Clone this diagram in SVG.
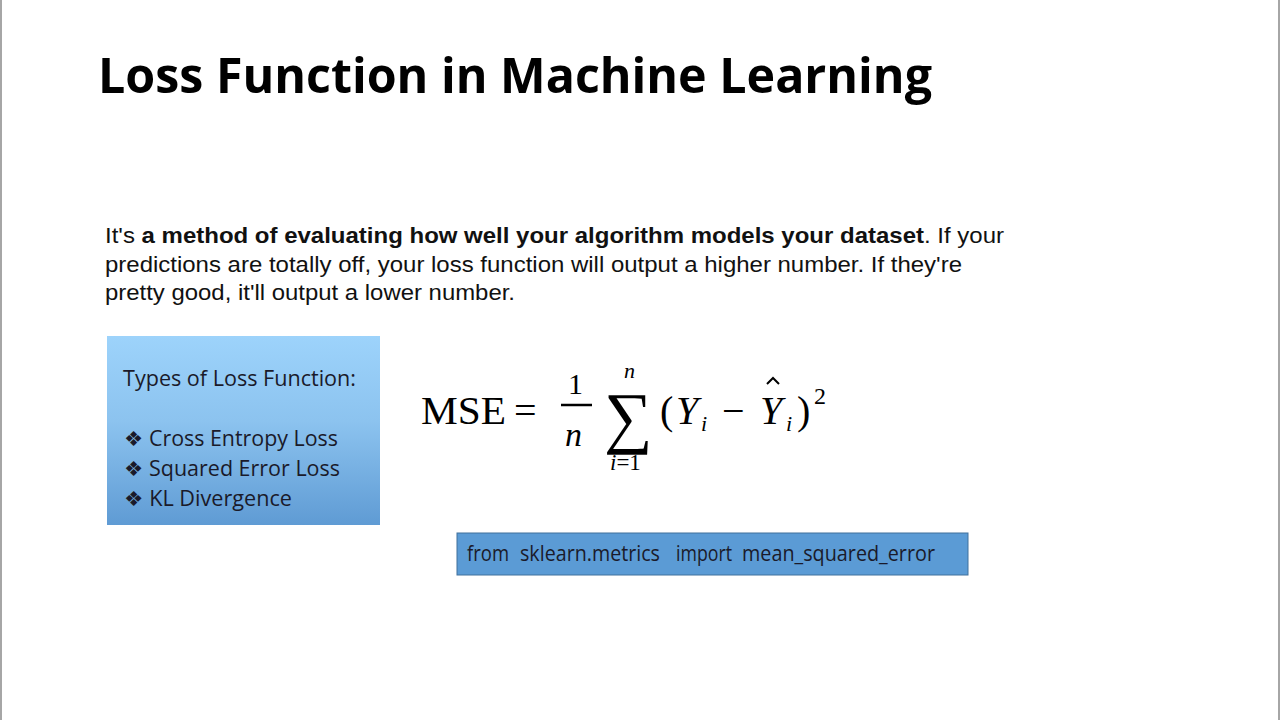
<svg xmlns="http://www.w3.org/2000/svg" width="1280" height="720" viewBox="0 0 1280 720">
<defs>
<linearGradient id="g" x1="0" y1="0" x2="0" y2="1">
<stop offset="0" stop-color="#9dd3fb"/><stop offset="0.45" stop-color="#8cc3ef"/><stop offset="1" stop-color="#5f9bd4"/>
</linearGradient>
</defs>
<style>
.t{font-family:"Open Sans","Liberation Sans",sans-serif;fill:#000}
.b{font-family:"Liberation Sans",Arial,sans-serif;font-size:22px;fill:#111}
.k{font-family:"Open Sans","Liberation Sans",sans-serif;font-size:21px;fill:#1a1a2a}
.m{font-family:"Liberation Serif",serif;fill:#000}
</style>
<rect width="1280" height="720" fill="#fff"/>
<line x1="1" y1="0" x2="1" y2="720" stroke="#888" stroke-width="1.5"/>
<line x1="1279" y1="0" x2="1279" y2="720" stroke="#888" stroke-width="1.5"/>
<text class="t" x="98" y="93" font-size="49" font-weight="bold" textLength="834" lengthAdjust="spacingAndGlyphs">Loss Function in Machine Learning</text>
<text class="b" x="105" y="243" textLength="899" lengthAdjust="spacingAndGlyphs">It's <tspan font-weight="bold">a method of evaluating how well your algorithm models your dataset</tspan>. If your</text>
<text class="b" x="105" y="272" textLength="857" lengthAdjust="spacingAndGlyphs">predictions are totally off, your loss function will output a higher number. If they're</text>
<text class="b" x="105" y="300" textLength="410" lengthAdjust="spacingAndGlyphs">pretty good, it'll output a lower number.</text>
<g id="types">
<rect x="107" y="336" width="273" height="189" fill="url(#g)"/>
<text class="k" x="123" y="386" textLength="233" lengthAdjust="spacingAndGlyphs">Types of Loss Function:</text>
<text class="k" x="124" y="446" textLength="214" lengthAdjust="spacingAndGlyphs">❖ Cross Entropy Loss</text>
<text class="k" x="124" y="476" textLength="216" lengthAdjust="spacingAndGlyphs">❖ Squared Error Loss</text>
<text class="k" x="124" y="506" textLength="168" lengthAdjust="spacingAndGlyphs">❖ KL Divergence</text>
</g>
<g id="formula">
<text class="m" x="421" y="424" font-size="40" textLength="85" lengthAdjust="spacingAndGlyphs">MSE</text>
<text class="m" x="514" y="424" font-size="40">=</text>
<text class="m" x="568" y="394" font-size="30">1</text>
<line x1="561" y1="405" x2="592" y2="405" stroke="#000" stroke-width="2.5"/>
<text class="m" x="565" y="446" font-size="34" font-style="italic">n</text>
<text class="m" x="624" y="378" font-size="22" font-style="italic">n</text>
<text class="m" x="604" y="440" font-size="68" font-family="DejaVu Serif,serif">∑</text>
<text class="m" x="610" y="470" font-size="23"><tspan font-style="italic">i</tspan>=1</text>
<text class="m" x="660" y="424" font-size="40">(</text>
<text class="m" x="676" y="424" font-size="40" font-style="italic">Y</text>
<text class="m" x="701" y="431" font-size="22" font-style="italic">i</text>
<text class="m" x="722" y="424" font-size="40">−</text>
<text class="m" x="760" y="424" font-size="40" font-style="italic">Y</text>
<path d="M767 384 L773 378 L779 384" fill="none" stroke="#000" stroke-width="2"/>
<text class="m" x="786" y="431" font-size="22" font-style="italic">i</text>
<text class="m" x="797" y="424" font-size="40">)</text>
<text class="m" x="814" y="404" font-size="24">2</text>
</g>
<g id="code">
<rect x="457" y="533" width="511" height="42" fill="#5b9bd5" stroke="#41719c" stroke-width="1"/>
<text class="k" x="467" y="561" font-size="20" textLength="42" lengthAdjust="spacingAndGlyphs">from</text>
<text class="k" x="520" y="561" font-size="20" textLength="140" lengthAdjust="spacingAndGlyphs">sklearn.metrics</text>
<text class="k" x="676" y="561" font-size="20" textLength="56" lengthAdjust="spacingAndGlyphs">import</text>
<text class="k" x="742" y="561" font-size="20" textLength="193" lengthAdjust="spacingAndGlyphs">mean_squared_error</text>
</g>
</svg>
